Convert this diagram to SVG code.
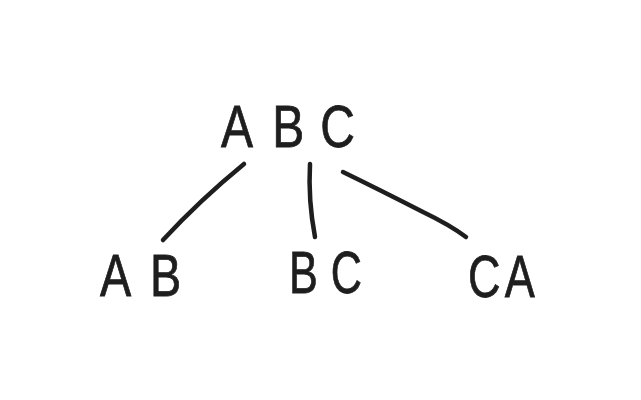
<svg xmlns="http://www.w3.org/2000/svg" width="641" height="400" viewBox="0 0 641 400">
<style>
.t{font-family:"Liberation Sans","DejaVu Sans",sans-serif;font-size:60px;fill:#1e1e1e;stroke:#1e1e1e;stroke-width:0.8}
.c{fill:none;stroke:#1e1e1e;stroke-width:4.5;stroke-linecap:round}
</style>
<rect width="641" height="400" fill="#fff"/>
<g id="connectors">
<path class="c" d="M244,164 Q200,200 163,240"/>
<path class="c" d="M310,164 Q308,200 315,237"/>
<path class="c" d="M343,172 Q380,190 423,212 Q450,225 466,237"/>
</g>
<g id="node-abc"><text class="t" transform="translate(221,147) scale(0.8,1)" x="0 42 64 105 124" y="0">A B C</text></g>
<g id="node-ab"><text class="t" transform="translate(100,296) scale(0.78,1)" x="0 64" y="0" font-size="66">AB</text></g>
<g id="node-bc"><text class="t" transform="translate(289,293) scale(0.72,1)" x="0 58" y="0">BC</text></g>
<g id="node-ca"><text class="t" transform="translate(468,297) scale(0.75,1)" x="0 49" y="0" font-size="66">CA</text></g>
</svg>
